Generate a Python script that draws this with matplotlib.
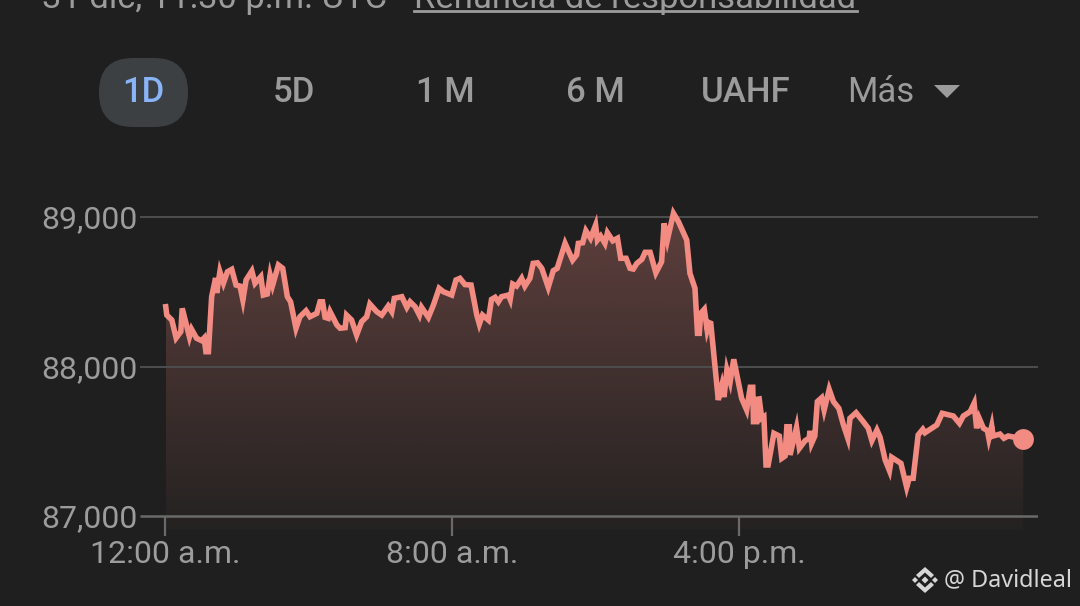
import numpy as np
import matplotlib
matplotlib.use('Agg')
import matplotlib.pyplot as plt
from matplotlib.patches import FancyBboxPatch, Polygon

plt.rcParams['font.family'] = ['Roboto', 'DejaVu Sans']

hours = [0.02, 0.05, 0.19, 0.31, 0.44, 0.48, 0.62, 0.68, 0.74, 0.88, 1.02, 1.09, 1.14, 1.21, 1.30, 1.41, 1.44, 1.53,
         1.63, 1.74, 1.86, 1.98, 2.09, 2.17, 2.26, 2.42, 2.51, 2.67, 2.74, 2.85, 2.93, 3.00, 3.16, 3.28, 3.41, 3.50,
         3.65, 3.76, 3.93, 4.04, 4.23, 4.32, 4.39, 4.46, 4.55, 4.60, 4.79, 4.88, 5.02, 5.06, 5.20, 5.34, 5.48, 5.62,
         5.71, 5.90, 6.04, 6.22, 6.32, 6.39, 6.60, 6.74, 6.83, 6.97, 7.09, 7.15, 7.34, 7.48, 7.64, 7.76, 7.99, 8.11,
         8.22, 8.36, 8.53, 8.69, 8.76, 8.85, 9.01, 9.10, 9.20, 9.29, 9.38, 9.57, 9.62, 9.69, 9.80, 9.94, 10.03, 10.17,
         10.26, 10.38, 10.50, 10.68, 10.82, 10.93, 11.01, 11.15, 11.36, 11.47, 11.52, 11.64, 11.73, 11.86, 12.00, 12.05,
         12.14, 12.26, 12.33, 12.48, 12.61, 12.70, 12.85, 12.96, 13.05, 13.15, 13.29, 13.38, 13.52, 13.68, 13.84, 13.91,
         14.00, 14.17, 14.31, 14.54, 14.63, 14.77, 14.84, 14.89, 14.93, 15.03, 15.11, 15.17, 15.21, 15.42, 15.52, 15.58,
         15.66, 15.75, 15.85, 16.07, 16.21, 16.31, 16.38, 16.40, 16.49, 16.51, 16.56, 16.63, 16.69, 16.75, 16.81, 16.97,
         17.12, 17.19, 17.28, 17.33, 17.40, 17.42, 17.60, 17.68, 17.84, 17.95, 17.98, 18.02, 18.11, 18.18, 18.30, 18.37,
         18.51, 18.63, 18.78, 18.90, 19.03, 19.09, 19.26, 19.46, 19.60, 19.70, 19.84, 19.93, 20.07, 20.19, 20.25, 20.51,
         20.67, 20.74, 20.85, 20.99, 21.12, 21.18, 21.51, 21.66, 21.97, 22.14, 22.25, 22.44, 22.55, 22.62, 22.69, 22.81,
         22.92, 22.96, 23.04, 23.08, 23.27, 23.38, 23.50, 23.92]
prices = [88400, 88344, 88311, 88191, 88233, 88389, 88256, 88199, 88249, 88189, 88173, 88191, 88099, 88099, 88467, 88592, 88492, 88634,
          88559, 88634, 88650, 88545, 88538, 88445, 88579, 88639, 88557, 88601, 88478, 88485, 88612, 88545, 88679, 88657, 88467, 88433,
          88256, 88333, 88373, 88333, 88356, 88433, 88433, 88329, 88322, 88367, 88278, 88256, 88260, 88344, 88311, 88211, 88300, 88333,
          88418, 88367, 88344, 88405, 88367, 88456, 88467, 88396, 88433, 88400, 88344, 88396, 88329, 88411, 88523, 88500, 88478, 88579,
          88590, 88548, 88545, 88344, 88284, 88344, 88311, 88449, 88463, 88433, 88467, 88478, 88449, 88552, 88538, 88590, 88538, 88590,
          88690, 88694, 88657, 88530, 88641, 88657, 88717, 88824, 88712, 88746, 88824, 88828, 88908, 88858, 88946, 88846,
          88873, 88824, 88895, 88841, 88858, 88724, 88724, 88657, 88652, 88690, 88717, 88764, 88764, 88627, 88701, 88958,
          88846, 89025, 88969, 88846, 88623, 88523, 88222, 88222, 88356, 88383, 88244, 88293, 88289, 87776, 87876, 87796,
          87977, 87898, 88048, 87787, 87709, 87861, 87861, 87631, 87631, 87781, 87783, 87654, 87664, 87341, 87341, 87553,
          87535, 87386, 87401, 87597, 87597, 87408, 87593, 87453, 87504, 87520, 87569, 87486, 87535, 87765, 87791, 87709,
          87847, 87765, 87720, 87615, 87520, 87654, 87691, 87631, 87587, 87504, 87575, 87526, 87375, 87303, 87393, 87352,
          87192, 87252, 87252, 87542, 87580, 87557, 87609, 87687, 87669, 87620, 87669, 87698, 87754, 87587, 87654, 87587,
          87571, 87520, 87602, 87535, 87548, 87520, 87535, 87515]

y_ticks = [87000, 88000, 89000]
y_labels = ['87,000', '88,000', '89,000']
x_ticks = [0, 8, 16]
x_labels = ['12:00 a.m.', '8:00 a.m.', '4:00 p.m.']
ranges = ['5D', '1 M', '6 M', 'UAHF']

BG = '#1f1f1f'
LINE = '#f28b82'
GREY = '#9c9c9c'
W, H = 1080, 606

fig = plt.figure(figsize=(W / 100, H / 100), dpi=100, facecolor=BG)

# chart area, 140..1038 px across and 200..536 px down
ax = fig.add_axes([140 / W, 1 - 536 / H, 898 / W, 336 / H], facecolor=BG)
xlim = (-0.697, 24.33)
ylim = (86866, 89114)
ax.set_xlim(xlim)
ax.set_ylim(ylim)
for s in ax.spines.values():
    s.set_visible(False)

# gradient under the line
fill_bottom = 86906
poly = ax.fill_between(hours, prices, fill_bottom, color='none', lw=0)
grad = np.linspace(1, 0, 256).reshape(-1, 1)
rgba = np.zeros((256, 1, 4))
rgba[:, :, :3] = matplotlib.colors.to_rgb(LINE)
rgba[:, :, 3] = 0.03 + 0.27 * grad
im = ax.imshow(rgba, extent=[hours[0], hours[-1], fill_bottom, max(prices)], aspect='auto', origin='upper', zorder=1)
im.set_clip_path(poly.get_paths()[0], transform=ax.transData)
ax.set_xlim(xlim)
ax.set_ylim(ylim)

ax.hlines(y_ticks[1:], xlim[0], xlim[1], color='#4b4c4e', lw=1.5, zorder=2)
ax.hlines(y_ticks[0], xlim[0], xlim[1], color='#6a6a6a', lw=1.8, zorder=2)
ax.vlines(x_ticks, ylim[0], y_ticks[0], color='#6a6a6a', lw=1.6, zorder=2)
ax.plot(hours, prices, color=LINE, lw=4, solid_joinstyle='miter', zorder=3, clip_on=False)
ax.plot(hours[-1], prices[-1], 'o', color=LINE, ms=15, mew=0, zorder=4, clip_on=False)

ax.set_yticks(y_ticks, y_labels)
ax.set_xticks(x_ticks, x_labels)
ax.tick_params(axis='y', length=0, pad=2, labelsize=23, labelcolor=GREY)
ax.tick_params(axis='x', length=0, pad=3, labelsize=23, labelcolor=GREY)

# top buttons and watermark drawn in pixel coordinates
ui = fig.add_axes([0, 0, 1, 1], facecolor='none')
ui.set_xlim(0, W)
ui.set_ylim(H, 0)
ui.axis('off')

ui.text(42, 8, '31 dic, 11:30 p.m. UTC  ·', fontsize=24.8, color=GREY, va='baseline')
ui.text(414, 8, 'Renuncia de responsabilidad', fontsize=24.8, color=GREY, va='baseline')
ui.plot([414, 857], [11, 11], color=GREY, lw=2)

ui.add_patch(FancyBboxPatch((99 + 34, 58 + 34), 89 - 68, 69 - 68, boxstyle='round,pad=34,rounding_size=34',
                            fc='#3c4043', ec='none'))
ui.text(143.5, 92, '1D', fontsize=25, fontweight='medium', color='#8ab4f8', ha='center', va='center')
for label, x in zip(ranges, [294, 445, 595, 746]):
    ui.text(x, 92, label, fontsize=25, fontweight='medium', color='#9b9b9b', ha='center', va='center')
ui.text(881, 92, 'Más', fontsize=25, color='#9b9b9b', ha='center', va='center')
ui.add_patch(Polygon([(934, 85), (960, 85), (947, 98)], fc='#9b9b9b', ec='none'))

logo = '#d6d6d6'
for cx, cy, r in [(925, 580, 3.5), (915, 580, 3), (935, 580, 3)]:
    ui.add_patch(Polygon([(cx - r, cy), (cx, cy - r), (cx + r, cy), (cx, cy + r)], fc=logo, ec='none'))
ui.add_patch(Polygon([(925, 567), (934, 575), (931, 578), (925, 572.5), (919, 578), (916, 575)], fc=logo, ec='none'))
ui.add_patch(Polygon([(925, 593), (934, 585), (931, 582), (925, 587.5), (919, 582), (916, 585)], fc=logo, ec='none'))
ui.text(944, 580, '@ Davidleal', fontsize=16.8, color='#d6d6d6', family=['Noto Sans', 'DejaVu Sans'], va='center')

fig.savefig('out.png', dpi=100, facecolor=BG)
